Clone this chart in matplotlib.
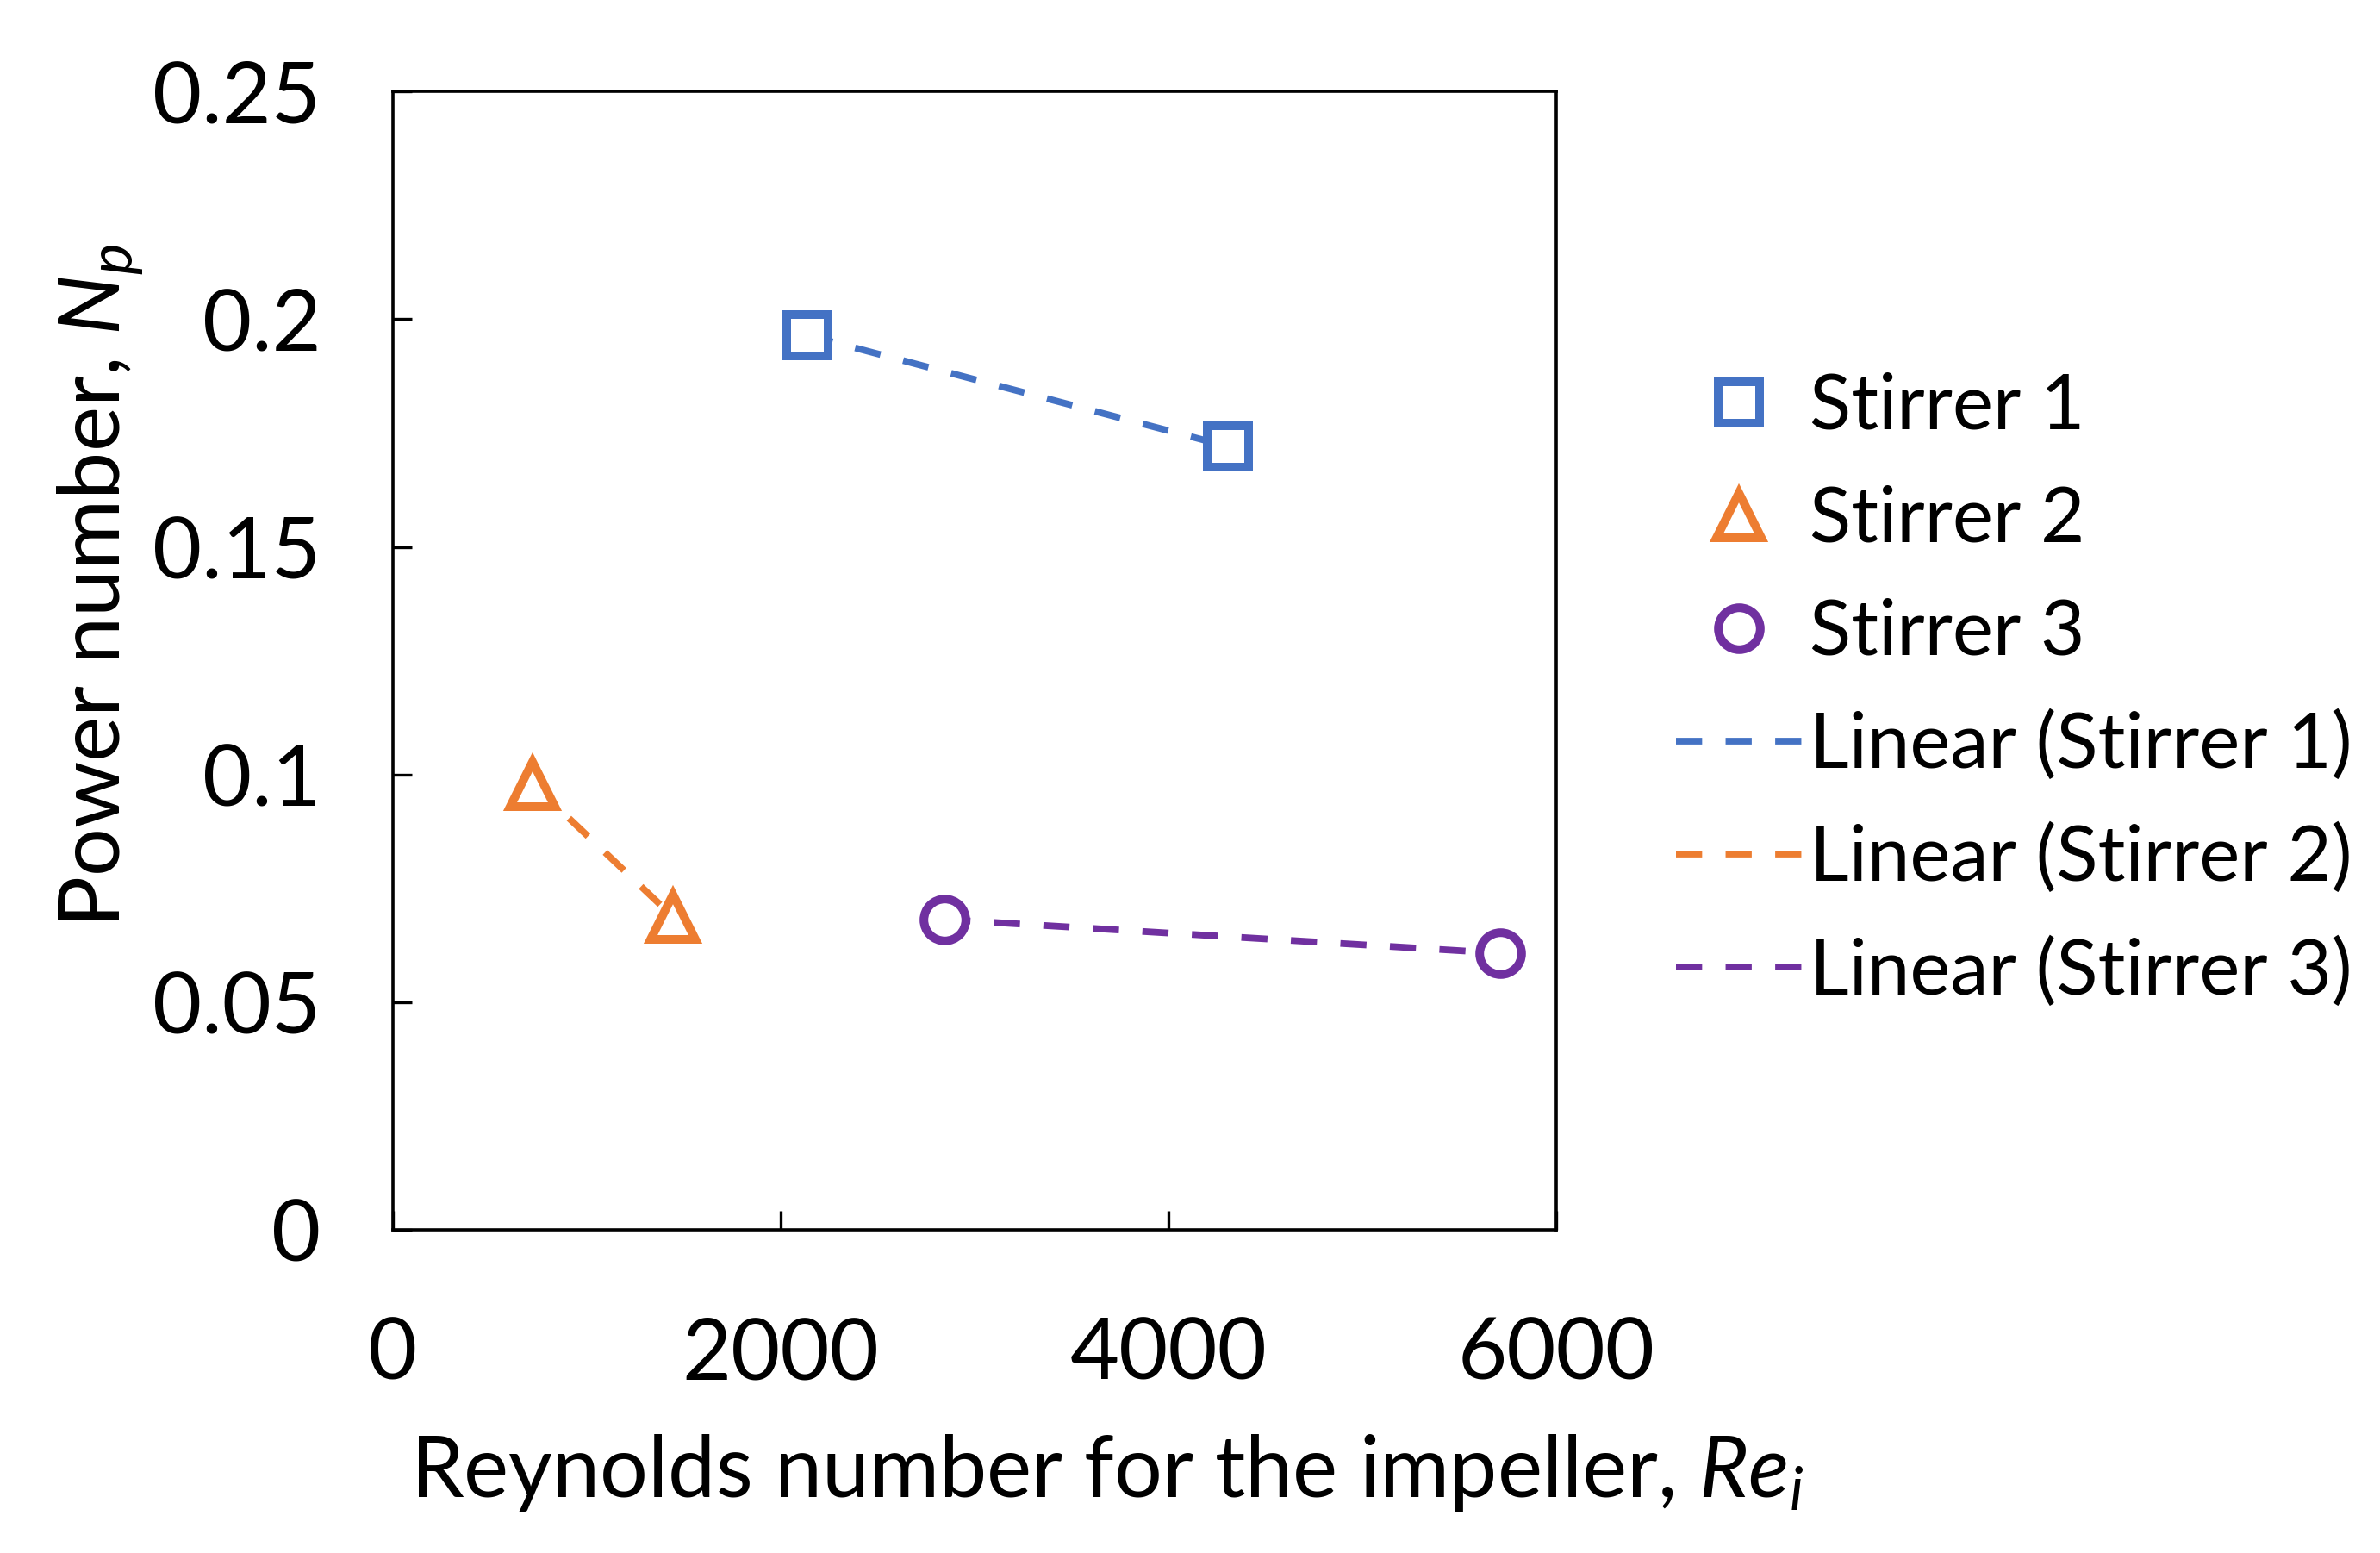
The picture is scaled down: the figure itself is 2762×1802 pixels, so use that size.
import numpy as np
import matplotlib
matplotlib.use("Agg")
import matplotlib.pyplot as plt

plt.rcParams['font.family'] = ['Lato', 'DejaVu Sans']
plt.rcParams['mathtext.fontset'] = 'custom'
plt.rcParams['mathtext.rm'] = 'Lato'
plt.rcParams['mathtext.it'] = 'Lato:italic'

# data
re_1 = [2137, 4305]
np_1 = [0.1965, 0.1721]
re_2 = [723, 1445]
np_2 = [0.0979, 0.0688]
re_3 = [2844, 5711]
np_3 = [0.0682, 0.0608]

labels = ["Stirrer 1", "Stirrer 2", "Stirrer 3"]
colors = ["#4472C4", "#ED7D31", "#7030A0"]
markers = ["s", "^", "o"]

x_ticks = [0, 2000, 4000, 6000]
y_ticks = [0, 0.05, 0.1, 0.15, 0.2, 0.25]
y_ticklabels = ["0", "0.05", "0.1", "0.15", "0.2", "0.25"]

fig = plt.figure(figsize=(13.81, 9.01), dpi=200)
ax = fig.add_axes([0.165, 0.208, 0.489, 0.733])

series = [(re_1, np_1), (re_2, np_2), (re_3, np_3)]

scatter_handles = []
line_handles = []
for (x, y), lab, c, m in zip(series, labels, colors, markers):
    ms = 19 if m == "^" else 17.5
    h, = ax.plot(x, y, linestyle='none', marker=m, markersize=ms,
                 markerfacecolor='white', markeredgecolor=c,
                 markeredgewidth=3.6, label=lab, zorder=3)
    scatter_handles.append(h)
# linear trendlines (two points each -> line through them)
for (x, y), lab, c in zip(series, labels, colors):
    coef = np.polyfit(x, y, 1)
    xx = np.array([min(x), max(x)])
    l, = ax.plot(xx, np.polyval(coef, xx), linestyle=(0, (3.9, 3.5)),
                 color=c, linewidth=2.8, label="Linear (" + lab + ")", zorder=2)
    line_handles.append(l)

ax.set_xlim(0, 6000)
ax.set_ylim(0, 0.25)
ax.set_xticks(x_ticks)
ax.set_yticks(y_ticks)
ax.set_yticklabels(y_ticklabels)
ax.tick_params(direction='in', length=8, width=1.2, labelsize=35.5)
ax.tick_params(axis='x', pad=36)
ax.tick_params(axis='y', pad=30)
for s in ax.spines.values():
    s.set_linewidth(1.3)

ax.set_xlabel(r"Reynolds number for the impeller, $Re_i$", fontsize=35.5)
ax.set_ylabel(r"Power number, $N_p$", fontsize=35.5)
ax.xaxis.set_label_coords(0.614, -0.178)
ax.yaxis.set_label_coords(-0.212, 0.566)

fig.legend(handles=scatter_handles + line_handles, loc='upper left',
           bbox_to_anchor=(0.688, 0.785), frameon=False, fontsize=32,
           handlelength=1.65, handletextpad=0.1, labelspacing=0.55,
           borderpad=0)

fig.savefig("out.png", dpi=200)
